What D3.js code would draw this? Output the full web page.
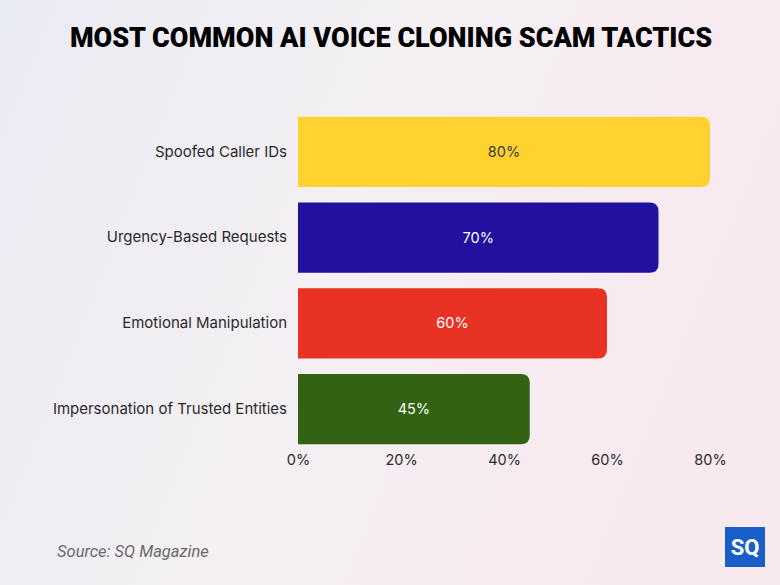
<!DOCTYPE html>
<html><head><meta charset="utf-8">
<script src="https://cdn.jsdelivr.net/npm/d3@7"></script>
<style>body{margin:0;padding:0;}svg{display:block;}</style>
</head><body>
<svg id="chart" width="780" height="585"></svg>
<script>
const categories = ["Spoofed Caller IDs","Urgency-Based Requests","Emotional Manipulation","Impersonation of Trusted Entities"];
const values = [80,70,60,45];
const barColors = ["#FFD230","#22109E","#E83224","#326212"];
const labelColors = ["#3a3a3a","#ffffff","#ffffff","#ffffff"];
const tickValues = [0,20,40,60,80];

const svg = d3.select("#chart");
const W = 780, H = 585;
const defs = svg.append("defs");
const g1 = defs.append("linearGradient").attr("id","bg").attr("x1","0").attr("y1","0").attr("x2","1").attr("y2","0.3");
g1.append("stop").attr("offset","0").attr("stop-color","#e9ebf4");
g1.append("stop").attr("offset","0.5").attr("stop-color","#f4f0f3");
g1.append("stop").attr("offset","1").attr("stop-color","#f8e9ef");
svg.append("rect").attr("width",W).attr("height",H).attr("fill","url(#bg)");

svg.append("text").attr("x",391).attr("y",47).attr("text-anchor","middle")
  .attr("font-family","Roboto, sans-serif").attr("font-weight",900).attr("font-size",27)
  .attr("fill","#000").text("MOST COMMON AI VOICE CLONING SCAM TACTICS");

const x = d3.scaleLinear().domain([0,80]).range([298,710]);
const y = d3.scaleBand().domain(categories).range([109,452]).paddingInner(0.18).paddingOuter(0.09);

const r = 9;
function barPath(x0,x1,y0,h){
  return `M${x0},${y0}H${x1-r}Q${x1},${y0} ${x1},${y0+r}V${y0+h-r}Q${x1},${y0+h} ${x1-r},${y0+h}H${x0}Z`;
}
svg.selectAll("path.bar").data(categories).enter().append("path").attr("class","bar")
  .attr("d",(c,i)=>barPath(x(0),x(values[i]),y(c),y.bandwidth()))
  .attr("fill",(c,i)=>barColors[i]);

svg.selectAll("text.val").data(categories).enter().append("text")
  .attr("x",(c,i)=>(x(0)+x(values[i]))/2).attr("y",c=>y(c)+y.bandwidth()/2+5)
  .attr("text-anchor","middle").attr("font-family","Inter, sans-serif").attr("font-size",14.5)
  .attr("fill",(c,i)=>labelColors[i]).text((c,i)=>values[i]+"%");

const yAxis = d3.axisLeft(y).tickSize(0).tickPadding(10);
const ya = svg.append("g").attr("transform","translate(297,0)").call(yAxis);
ya.select(".domain").remove();
ya.selectAll("text").attr("font-family","Inter, sans-serif").attr("font-size",15).attr("fill","#2a2a2a");

const xAxis = d3.axisBottom(x).tickValues(tickValues).tickSize(0).tickPadding(0).tickFormat(d=>d+"%");
const xa = svg.append("g").attr("transform","translate(0,452)").call(xAxis);
xa.select(".domain").remove();
xa.selectAll("text").attr("font-family","Inter, sans-serif").attr("font-size",14.5).attr("fill","#2a2a2a").attr("dy","0.9em");

svg.append("text").attr("x",57).attr("y",557).attr("font-family","Roboto, sans-serif").attr("font-style","italic")
  .attr("font-size",16.5).attr("fill","#6a6a6a").text("Source: SQ Magazine");

svg.append("rect").attr("x",725).attr("y",527).attr("width",40).attr("height",40).attr("fill","#1a5fc8");
svg.append("text").attr("x",745).attr("y",555).attr("text-anchor","middle").attr("font-family","Roboto, sans-serif")
  .attr("font-weight",700).attr("font-size",22).attr("fill","#fff").text("SQ");
</script>
</body></html>
